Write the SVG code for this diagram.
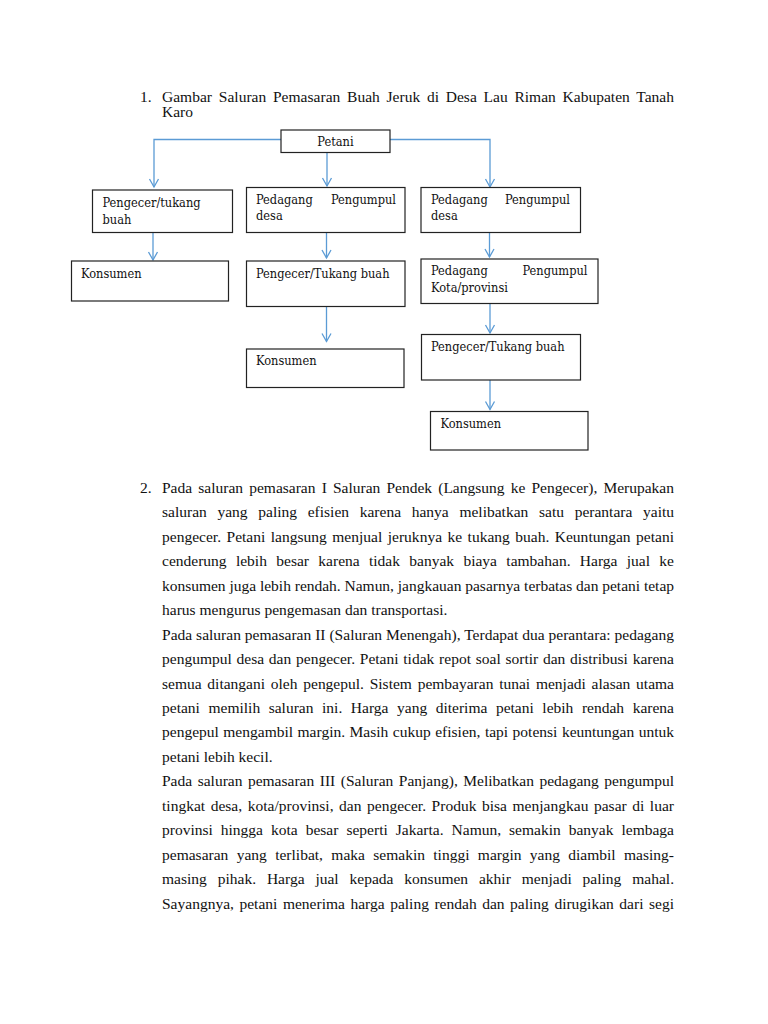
<svg xmlns="http://www.w3.org/2000/svg" width="768" height="1024" viewBox="0 0 768 1024">
<style>
.body{font-family:"Liberation Serif","Times New Roman",serif;font-size:15.5px;fill:#111}
.bx rect{fill:#fff;stroke:#222;stroke-width:1.2}
.bx text{font-family:"DejaVu Serif",serif;font-stretch:condensed;font-size:12.7px;fill:#111}
.conn path{fill:none;stroke:#5B9BD5;stroke-width:1.3}
</style>
<defs>
<marker id="ah" markerUnits="userSpaceOnUse" viewBox="-10 -6 12 12" refX="0" refY="0" markerWidth="12" markerHeight="12" orient="auto" overflow="visible">
<path d="M-8,-4.5 L0,0 L-8,4.5" fill="none" stroke="#5B9BD5" stroke-width="1.3"/>
</marker>
</defs>
<rect width="768" height="1024" fill="#fff"/>

<text class="body" x="140" y="101.5">1.</text>
<text class="body" x="162" y="101.5" word-spacing="2.82" textLength="512" lengthAdjust="spacing">Gambar Saluran Pemasaran Buah Jeruk di Desa Lau Riman Kabupaten Tanah</text>
<text class="body" x="162" y="117">Karo</text>

<g class="conn">
<path d="M281,139.5 H154 V187" marker-end="url(#ah)"/>
<path d="M390,139.5 H490 V187" marker-end="url(#ah)"/>
<path d="M327,152.5 V186" marker-end="url(#ah)"/>
<path d="M153,232.5 V260" marker-end="url(#ah)"/>
<path d="M326.5,232.5 V258" marker-end="url(#ah)"/>
<path d="M489.5,232.5 V257" marker-end="url(#ah)"/>
<path d="M326.5,306.5 V341.5" marker-end="url(#ah)"/>
<path d="M490,303.5 V333" marker-end="url(#ah)"/>
<path d="M490,380 V409.5" marker-end="url(#ah)"/>
</g>

<g id="petani" class="bx">
<rect x="281" y="130" width="109" height="22.5"/>
<text x="335.5" y="146" text-anchor="middle">Petani</text>
</g>
<g id="pengecer1" class="bx">
<rect x="92.5" y="190" width="140" height="42.5"/>
<text x="102.5" y="207">Pengecer/tukang</text>
<text x="102.5" y="224">buah</text>
</g>
<g id="pengumpul-desa2" class="bx">
<rect x="246.5" y="187.5" width="158.5" height="45"/>
<text x="256" y="203.5">Pedagang</text>
<text x="396" y="203.5" text-anchor="end">Pengumpul</text>
<text x="256" y="220">desa</text>
</g>
<g id="pengumpul-desa3" class="bx">
<rect x="421" y="187.5" width="159.5" height="45"/>
<text x="431" y="203.5">Pedagang</text>
<text x="570" y="203.5" text-anchor="end">Pengumpul</text>
<text x="431" y="220">desa</text>
</g>
<g id="konsumen1" class="bx">
<rect x="71.5" y="261" width="157" height="40"/>
<text x="81" y="277.5">Konsumen</text>
</g>
<g id="pengecer2" class="bx">
<rect x="246.5" y="261" width="158.5" height="45.5"/>
<text x="256" y="277.5">Pengecer/Tukang buah</text>
</g>
<g id="pengumpul-kota3" class="bx">
<rect x="421" y="259" width="177" height="44.5"/>
<text x="431" y="275">Pedagang</text>
<text x="587.5" y="275" text-anchor="end">Pengumpul</text>
<text x="431" y="291.5">Kota/provinsi</text>
</g>
<g id="konsumen2" class="bx">
<rect x="246.5" y="349" width="157.5" height="38.5"/>
<text x="256" y="364.5">Konsumen</text>
</g>
<g id="pengecer3" class="bx">
<rect x="421.5" y="334.5" width="159" height="45.5"/>
<text x="431" y="351">Pengecer/Tukang buah</text>
</g>
<g id="konsumen3" class="bx">
<rect x="430.5" y="411.5" width="157.5" height="38.5"/>
<text x="440.5" y="427.5">Konsumen</text>
</g>

<text class="body" x="140" y="493">2.</text>
<text class="body" x="162" y="493" word-spacing="2.27" textLength="512" lengthAdjust="spacing">Pada saluran pemasaran I Saluran Pendek (Langsung ke Pengecer), Merupakan</text>
<text class="body" x="162" y="517.4" word-spacing="6.81" textLength="512" lengthAdjust="spacing">saluran yang paling efisien karena hanya melibatkan satu perantara yaitu</text>
<text class="body" x="162" y="541.9" word-spacing="1.55" textLength="512" lengthAdjust="spacing">pengecer. Petani langsung menjual jeruknya ke tukang buah. Keuntungan petani</text>
<text class="body" x="162" y="566.3" word-spacing="5.45" textLength="512" lengthAdjust="spacing">cenderung lebih besar karena tidak banyak biaya tambahan. Harga jual ke</text>
<text class="body" x="162" y="590.8" textLength="512" lengthAdjust="spacing">konsumen juga lebih rendah. Namun, jangkauan pasarnya terbatas dan petani tetap</text>
<text class="body" x="162" y="615.2">harus mengurus pengemasan dan transportasi.</text>
<text class="body" x="162" y="639.6" textLength="512" lengthAdjust="spacing">Pada saluran pemasaran II (Saluran Menengah), Terdapat dua perantara: pedagang</text>
<text class="body" x="162" y="664.1" word-spacing="0.84" textLength="512" lengthAdjust="spacing">pengumpul desa dan pengecer. Petani tidak repot soal sortir dan distribusi karena</text>
<text class="body" x="162" y="688.5" word-spacing="1.88" textLength="512" lengthAdjust="spacing">semua ditangani oleh pengepul. Sistem pembayaran tunai menjadi alasan utama</text>
<text class="body" x="162" y="713" word-spacing="4.67" textLength="512" lengthAdjust="spacing">petani memilih saluran ini. Harga yang diterima petani lebih rendah karena</text>
<text class="body" x="162" y="737.4" word-spacing="0.59" textLength="512" lengthAdjust="spacing">pengepul mengambil margin. Masih cukup efisien, tapi potensi keuntungan untuk</text>
<text class="body" x="162" y="761.8">petani lebih kecil.</text>
<text class="body" x="162" y="786.3" word-spacing="1.64" textLength="512" lengthAdjust="spacing">Pada saluran pemasaran III (Saluran Panjang), Melibatkan pedagang pengumpul</text>
<text class="body" x="162" y="810.7" word-spacing="1.65" textLength="512" lengthAdjust="spacing">tingkat desa, kota/provinsi, dan pengecer. Produk bisa menjangkau pasar di luar</text>
<text class="body" x="162" y="835.2" word-spacing="4.13" textLength="512" lengthAdjust="spacing">provinsi hingga kota besar seperti Jakarta. Namun, semakin banyak lembaga</text>
<text class="body" x="162" y="859.6" word-spacing="4.46" textLength="512" lengthAdjust="spacing">pemasaran yang terlibat, maka semakin tinggi margin yang diambil masing-</text>
<text class="body" x="162" y="884" word-spacing="7.0" textLength="512" lengthAdjust="spacing">masing pihak. Harga jual kepada konsumen akhir menjadi paling mahal.</text>
<text class="body" x="162" y="908.5" word-spacing="1.65" textLength="512" lengthAdjust="spacing">Sayangnya, petani menerima harga paling rendah dan paling dirugikan dari segi</text>
</svg>
